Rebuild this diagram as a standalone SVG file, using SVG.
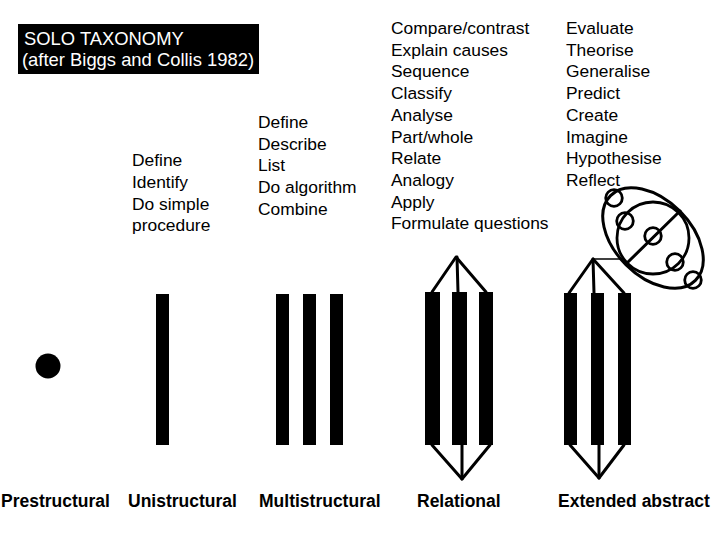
<svg xmlns="http://www.w3.org/2000/svg" width="720" height="540" viewBox="0 0 720 540">
<style>
  text { font-family: "Liberation Sans", Arial, sans-serif; fill: #000; }
  .body { font-size: 17.4px; }
  .title { font-size: 18.4px; fill: #fff; }
  .label { font-size: 17.5px; font-weight: bold; }
  .bar { fill: #000; }
  .ln { stroke: #000; stroke-width: 3; fill: none; stroke-linecap: round; stroke-linejoin: round; }
  .thin { stroke: #000; stroke-width: 1.5; fill: none; }
  .sc { stroke: #000; stroke-width: 2.8; fill: none; }
</style>
<rect width="720" height="540" fill="#fff"/>

<g id="title">
  <rect x="18" y="24" width="241" height="50" fill="#000"/>
  <text class="title" x="24" y="44.5">SOLO TAXONOMY</text>
  <text class="title" x="22" y="66">(after Biggs and Collis 1982)</text>
</g>

<g id="prestructural">
  <circle cx="48" cy="366" r="12.5" fill="#000"/>
  <text class="label" x="1" y="507">Prestructural</text>
</g>

<g id="unistructural">
  <rect class="bar" x="156" y="294" width="13" height="151"/>
  <text class="body" x="132" y="166">Define</text>
  <text class="body" x="132" y="188">Identify</text>
  <text class="body" x="132" y="209.5">Do simple</text>
  <text class="body" x="132" y="231">procedure</text>
  <text class="label" x="128" y="507">Unistructural</text>
</g>

<g id="multistructural">
  <rect class="bar" x="276" y="294" width="13" height="151"/>
  <rect class="bar" x="303" y="294" width="13" height="151"/>
  <rect class="bar" x="330" y="294" width="13" height="151"/>
  <text class="body" x="258" y="128">Define</text>
  <text class="body" x="258" y="149.5">Describe</text>
  <text class="body" x="258" y="171">List</text>
  <text class="body" x="258" y="193">Do algorithm</text>
  <text class="body" x="258" y="214.5">Combine</text>
  <text class="label" x="259" y="507">Multistructural</text>
</g>

<g id="relational">
  <rect class="bar" x="425" y="292" width="15" height="153"/>
  <rect class="bar" x="452" y="292" width="15" height="153"/>
  <rect class="bar" x="479" y="292" width="14" height="153"/>
  <text class="body" x="391" y="34">Compare/contrast</text>
  <text class="body" x="391" y="55.7">Explain causes</text>
  <text class="body" x="391" y="77.4">Sequence</text>
  <text class="body" x="391" y="99.1">Classify</text>
  <text class="body" x="391" y="120.8">Analyse</text>
  <text class="body" x="391" y="142.5">Part/whole</text>
  <text class="body" x="391" y="164.2">Relate</text>
  <text class="body" x="391" y="185.9">Analogy</text>
  <text class="body" x="391" y="207.6">Apply</text>
  <text class="body" x="391" y="229.3">Formulate questions</text>
  <text class="label" x="417" y="507">Relational</text>
</g>

<g id="extended-abstract">
  <rect class="bar" x="564" y="293" width="13" height="152"/>
  <rect class="bar" x="591" y="293" width="13" height="152"/>
  <rect class="bar" x="618" y="293" width="13" height="152"/>
  <g id="ellipse">
    <ellipse class="ln" cx="653" cy="238" rx="60" ry="38" transform="rotate(45 653 238)"/>
    <circle class="sc" cx="653" cy="238" r="36"/>
    <line class="ln" x1="627" y1="263" x2="680" y2="211"/>
    <circle class="sc" cx="614" cy="198" r="8.3"/>
    <circle class="sc" cx="625" cy="221" r="8.3"/>
    <circle class="sc" cx="653" cy="236" r="8.3"/>
    <circle class="sc" cx="675" cy="262" r="8.3"/>
    <circle class="sc" cx="693" cy="280" r="8.3"/>
  </g>
  <text class="body" x="566" y="34">Evaluate</text>
  <text class="body" x="566" y="55.7">Theorise</text>
  <text class="body" x="566" y="77.4">Generalise</text>
  <text class="body" x="566" y="99.1">Predict</text>
  <text class="body" x="566" y="120.8">Create</text>
  <text class="body" x="566" y="142.5">Imagine</text>
  <text class="body" x="566" y="164.2">Hypothesise</text>
  <text class="body" x="566" y="185.9">Reflect</text>
  <text class="label" x="558" y="507">Extended abstract</text>
</g>

<g id="connectors">
  <polyline class="ln" points="432,292 456,257 486,292"/>
  <line class="ln" x1="457" y1="257" x2="458" y2="292"/>
  <polyline class="ln" points="432,445 462,479 490,445"/>
  <line class="ln" x1="462" y1="445" x2="462" y2="479"/>
  <polyline class="ln" points="569,293 593,259 624,293"/>
  <line class="ln" x1="593" y1="259" x2="594" y2="293"/>
  <polyline class="ln" points="570,445 599,478 624,445"/>
  <line class="ln" x1="599" y1="445" x2="599" y2="478"/>
  <line class="thin" x1="593" y1="259" x2="621" y2="259"/>
</g>
</svg>
